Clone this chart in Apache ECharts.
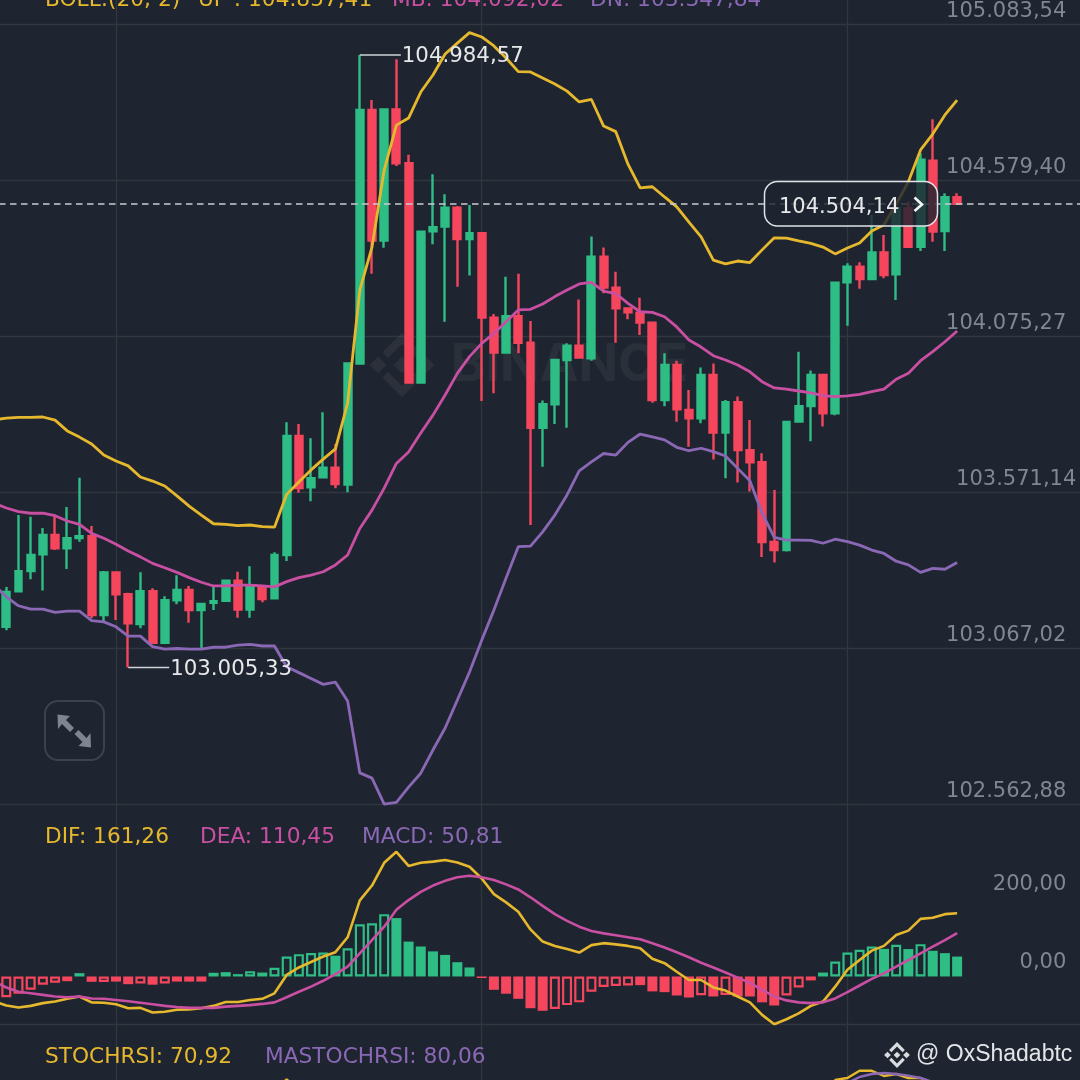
<!DOCTYPE html>
<html><head><meta charset="utf-8">
<style>html,body{margin:0;padding:0;background:#1f2530}#c{width:1080px;height:1080px}</style>
<script src="https://cdn.jsdelivr.net/npm/echarts@6/dist/echarts.min.js"></script>
</head><body><div id="c"></div>
<script>
// open, close, low, high
const candles = [
[103137,103250,103126,103266],[103252,103317,103252,103498],[103317,103369,103291,103493],[103371,103434,103254,103456],
[103434,103391,103385,103493],[103391,103423,103324,103524],[103424,103430,103412,103619],[103430,103175,103165,103463],
[103175,103313,103153,103317],[103313,103242,103159,103313],[103242,103148,103005.33,103247],[103146,103252,103132,103313],
[103252,103085,103085,103262],[103085,103223,103085,103236],[103223,103256,103210,103304],[103256,103191,103150,103269],
[103191,103211,103067,103211],[103215,103220,103191,103266],[103221,103286,103217,103288],[103286,103193,103166,103315],
[103193,103266,103166,103333],[103266,103227,103216,103266],[103229,103369,103229,103378],[103369,103754,103350,103798],
[103754,103585,103570,103792],[103588,103617,103543,103746],[103620,103651,103620,103830],[103651,103598,103585,103728],
[103597,103988,103572,103988],[103988,104807,103988,104984.57],[104807,104385,104278,104839],[104385,104809,104362,104809],
[104809,104635,104626,104971],[104635,103926,103926,104662],[103926,104414,103926,104414],[104415,104428,104373,104599],
[104430,104491,104123,104535],[104491,104390,104236,104497],[104390,104409,104272,104500],[104409,104136,103867,104409],
[104136,104023,103892,104148],[104023,104141,104023,104268],[104141,104055,104021,104278],[104055,103780,103466,104125],
[103780,103856,103654,103868],[103856,103999,103792,103999],[103999,104045,103780,104053],[104045,104007,104007,104195],
[104005,104333,103997,104398],[104333,104233,104215,104363],[104233,104166,104055,104284],[104166,104153,104131,104166],
[104152,104120,104080,104200],[104120,103870,103861,104120],[103870,103983,103850,104021],[103983,103840,103800,103997],
[103838,103811,103719,103902],[103811,103951,103795,103975],[103951,103765,103678,103988],[103765,103863,103617,103870],
[103863,103708,103603,103881],[103708,103669,103574,103805],[103669,103411,103363,103698],[103411,103385,103345,103579],
[103385,103799,103380,103799],[103800,103850,103800,104026],[103850,103951,103737,103965],[103951,103827,103784,103951],
[103827,104249,103821,104249],[104250,104301,104110,104312],[104301,104261,104229,104315],[104261,104347,104261,104468],
[104347,104274,104263,104403],[104276,104490,104193,104490],[104489,104365,104365,104511],[104365,104646,104351,104667],
[104643,104414,104381,104777],[104416,104525,104351,104538],[104525,104504.14,104504,104538]];
const bollUp = [103806,103811,103814,103814,103815,103805,103770,103750,103728,103692,103673,103657,103621,103608,103592,103560,103527,103498,103470,103468,103464,103466,103461,103459,103565,103605,103644,103679,103712,103860,104225,104364,104613,104758,104781,104865,104920,104988,105023,105057,105043,105014,104975,104931,104930,104910,104891,104868,104833,104841,104755,104737,104632,104555,104559,104526,104494,104445,104397,104322,104310,104319,104314,104355,104394,104393,104384,104376,104364,104342,104361,104377,104416,104436,104503,104575,104678,104729,104791,104839];
const bollMid = [103537,103521,103509,103504,103504,103496,103479,103468,103439,103423,103404,103382,103363,103342,103328,103313,103296,103281,103269,103269,103272,103272,103269,103266,103283,103296,103304,103315,103337,103369,103455,103514,103585,103665,103702,103763,103821,103886,103956,104010,104053,104085,104123,104161,104163,104180,104204,104225,104245,104250,104222,104214,104182,104155,104153,104139,104106,104064,104041,104013,103999,103983,103961,103929,103909,103905,103899,103893,103884,103881,103883,103888,103897,103905,103937,103956,103997,104026,104058,104093];
const bollDn = [103272,103234,103205,103194,103194,103184,103188,103188,103157,103153,103137,103107,103107,103073,103065,103067,103065,103065,103071,103071,103078,103080,103075,103075,103008,102989,102970,102951,102958,102897,102665,102648,102564,102570,102619,102664,102739,102810,102900,102991,103094,103191,103295,103396,103398,103444,103498,103563,103641,103670,103697,103692,103733,103760,103751,103741,103717,103706,103714,103703,103689,103649,103609,103504,103426,103417,103417,103416,103407,103420,103412,103401,103385,103374,103349,103337,103313,103326,103323,103345];
const macdHist = [-52.7,-44,-34,-21,-16,-12,8.5,-13.6,-14,-13,-19.6,-18,-21,-18,-13,-13,-13,9.4,11,6,13.6,10,22,51,57,60,61,53,72,133,136,159,149,89,76.5,64,55,36.5,23,-4,-34,-44,-57,-81,-87.5,-83,-73,-66,-39,-27,-24,-23,-22,-38,-40,-48.5,-53.6,-48,-51,-47,-51,-51,-66,-74,-48.5,-28,-10,10,38,61,68,76.5,70.5,81,70,82.5,65.5,59.5,50.81];
const macdHollow = [1,1,1,1,1,0,0,0,1,0,0,1,0,1,0,0,0,0,1,0,1,0,1,1,1,1,1,0,1,1,1,1,0,0,0,0,0,0,0,0,0,0,0,0,0,1,1,1,1,1,1,1,0,0,0,0,0,1,0,1,0,0,0,0,1,1,0,0,1,1,1,1,0,1,0,1,0,0,0];
const dif = [-64,-74,-79,-75,-68,-64,-57,-51,-66,-67,-71,-81,-80,-92,-90,-85,-84,-81,-75,-65,-65,-60,-57,-43,4,23,37,51,62,100,194,232,290,318,282,290,293,297,291,280,250,210,189,165,120,89,78,70,61,80,85,82,78,72,45,34,12,-9,-9,-28,-36,-51,-66,-98,-122,-109,-94,-75,-64,-26,17,42,66,78,106,117,147,150,159,161.26];
const dea = [-13,-28,-39,-43,-47,-51,-53,-51,-56,-57,-60,-63,-67,-71,-75,-78,-80,-80,-80,-77,-75,-73,-70,-66,-53,-39,-26,-11,6,25,59,93,127,170,195,216,232,244,253,257,253,246,235,222,202,180,159,142,127,116,110,105,100,95,85,74,62,49,35,23,10,-3,-16,-34,-51,-61,-66,-68,-66,-56,-40,-23,-6,8,25,42,59,76,93,110.45];
const stoch = {22:90,23:95.3,24:90,67:85,68:95,69:96,70:99.6,71:99.6,72:97,73:98,74:96,75:96,76:93.5,77:80,78:70.92};
const maStoch = {68:88,69:93.5,70:96.5,71:98,72:98.5,73:98,74:97.2,75:96,76:94,77:88,78:80.06};
const priceTicks = [105083.54,104579.40,104075.27,103571.14,103067.02,102562.88];
const priceLabels = ['105.083,54','104.579,40','104.075,27','103.571,14','103.067,02','102.562,88'];
const macdLabelValues = [200,0];
const macdLabels = ['200,00','0,00'];
const lastPrice = 104504.14;
const extremes = [[30,104984.57,'104.984,57'],[11,103005.33,'103.005,33']];
const gridMarks = [10,40,70];

const BG='#1f2530',GRID='#31373f',UP='#2EBD85',DN='#F6465D',YEL='#E6B82E',PINK='#C94FA3',PUR='#8A68B5',AX='#7f8694';
const FONT='"DejaVu Sans", Roboto, sans-serif';
const N=91, BAND=12.19, LEFT=6.3-1.5*BAND, W=BAND*N;
const cats=Array.from({length:N},(_,i)=>String(i-1));
const padded=a=>a.concat(Array(N-a.length).fill(null));
const fromMap=m=>cats.map((_,i)=>(m[i-1]!==undefined?m[i-1]:null));
const cData=['-'].concat(candles).concat(Array(N-candles.length-1).fill('-'));
const barData=[null].concat(macdHist.map((v,i)=>{
  const c=v>=0?UP:DN;
  return macdHollow[i]?{value:v,itemStyle:{color:BG,borderColor:c,borderWidth:2.2}}:{value:v,itemStyle:{color:c,borderColor:c,borderWidth:0}};
})).concat(Array(N-macdHist.length-1).fill(null));

const LOGO=[[[50,38],[62,50],[50,62],[38,50]],[[16,38],[28,50],[16,62],[4,50]],[[84,38],[96,50],[84,62],[72,50]],
  [[50,4],[78,32],[70,40],[50,20],[30,40],[22,32]],[[50,96],[78,68],[70,60],[50,80],[30,60],[22,68]]];
const logo=(x,y,s,fill,z)=>({type:'group',x,y,scaleX:s,scaleY:s,silent:true,children:LOGO.map(p=>({type:'polygon',z,silent:true,shape:{points:p},style:{fill}}))});
const txt=(x,y,text,color,size,extra)=>({type:'text',x,y,z:60,silent:true,style:Object.assign({text,fill:color,font:`${size}px ${FONT}`,textVerticalAlign:'middle'},extra||{})});
const icon=(pts)=>({type:'polygon',z:60,silent:true,shape:{points:pts},style:{fill:'#7f8590'}});

const graphicEls=[
  logo(367,330,.7,'rgba(255,255,255,0.055)',1),
  {type:'text',x:451,y:365,z:1,silent:true,style:{text:'BINANCE',fill:'rgba(255,255,255,0.05)',font:'bold 52px Inter, sans-serif',textVerticalAlign:'middle'}},
  txt(45,0,'BOLL:(20, 2)',YEL,21.7),txt(198,0,'UP : 104.857,41',YEL,21.7),txt(392,0,'MB: 104.092,02',PINK,21.7),txt(590,0,'DN: 103.347,84',PUR,21.7),
  txt(45,837.5,'DIF: 161,26',YEL,21.7),txt(200,837.5,'DEA: 110,45',PINK,21.7),txt(362,837.5,'MACD: 50,81',PUR,21.7),
  txt(45,1057.5,'STOCHRSI: 70,92',YEL,21.7),txt(265,1057.5,'MASTOCHRSI: 80,06',PUR,21.7),
  logo(883,1041,.28,'#d9dbdf',60),
  {type:'text',x:916,y:1055,z:60,silent:true,style:{text:'@ OxShadabtc',fill:'#e3e5e8',font:'23px "Liberation Sans", sans-serif',textVerticalAlign:'middle'}},
  {type:'rect',z:60,silent:true,shape:{x:45,y:701,width:59,height:59,r:13},style:{fill:'rgba(0,0,0,0)',stroke:'#3b424d',lineWidth:2}},
  icon([[57.5,714.5],[70,716],[66,720],[74,728],[70,732],[62,724],[58,729]]),
  icon([[91,747.5],[78.5,746],[82.5,742],[74.5,734],[78.5,730],[86.5,738],[90.5,733]]),
  {type:'rect',z:70,silent:true,shape:{x:764.5,y:181.5,width:173,height:44.5,r:13},style:{fill:'rgba(31,37,48,0.82)',stroke:'#dfe2e6',lineWidth:1.5}},
  {type:'text',x:779,y:207.5,z:71,silent:true,style:{text:'104.504,14',fill:'#e6e8ea',font:`21px ${FONT}`,textVerticalAlign:'middle'}},
  {type:'polyline',z:71,silent:true,shape:{points:[[914.5,197.5],[922,204.5],[914.5,211]]},style:{stroke:'#f2f3f5',lineWidth:2.6,fill:null}}
];
const lineS=(name,data,color,x,w)=>({name,type:'line',data:padded(data),xAxisIndex:x,yAxisIndex:x,symbol:'none',showSymbol:false,smooth:false,z:4,lineStyle:{color,width:w||2},itemStyle:{color},animation:false,silent:true});
const xAx=(gi,extra)=>Object.assign({type:'category',gridIndex:gi,data:cats,boundaryGap:true,axisLine:{show:false},axisTick:{show:false},axisLabel:{show:false},splitLine:{show:false}},extra||{});
const option={
  backgroundColor:BG,animation:false,
  grid:[
    {left:LEFT,width:W,top:24.4,height:780.1,outerBoundsMode:'none'},
    {left:LEFT,width:W,top:805,height:219.3,outerBoundsMode:'none'},
    {left:LEFT,width:W,top:1070,height:200,outerBoundsMode:'none'},
    {left:LEFT,width:W,top:0,height:1080,outerBoundsMode:'none'}
  ],
  xAxis:[xAx(0),xAx(1),xAx(2),xAx(3,{splitLine:{show:true,alignWithLabel:true,lineStyle:{color:GRID,width:1.3},interval:(i)=>gridMarks.includes(i)}})],
  yAxis:[
    {type:'value',gridIndex:0,position:'right',min:102562.88,max:105083.54,axisLine:{show:false},
     axisTick:{show:false,customValues:priceTicks},splitLine:{show:true,lineStyle:{color:GRID,width:1.3}},
     axisLabel:{show:true,inside:true,customValues:priceTicks,margin:21,align:'right',verticalAlign:'bottom',color:AX,fontFamily:FONT,fontSize:21,
       formatter:(v)=>{const i=priceTicks.findIndex(t=>Math.abs(t-v)<.01);return i===3?`{a|${priceLabels[i]}}`:`{a|${priceLabels[i]}}{s|}`;},
       rich:{a:{color:AX,fontFamily:FONT,fontSize:21,lineHeight:25},s:{width:10}}}},
    {type:'value',gridIndex:1,position:'right',min:-122,max:437.5,axisLine:{show:false},
     axisTick:{show:false,customValues:[-122]},splitLine:{show:true,lineStyle:{color:GRID,width:1.3}},
     axisLabel:{show:true,inside:true,customValues:macdLabelValues,margin:31,align:'right',verticalAlign:'bottom',color:AX,fontFamily:FONT,fontSize:21,lineHeight:28,
       formatter:(v)=>macdLabels[macdLabelValues.indexOf(v)]}},
    {type:'value',gridIndex:2,min:0,max:100,show:false,splitLine:{show:false}},
    {type:'value',gridIndex:3,min:0,max:1,show:false,splitLine:{show:false}}
  ],
  graphic:{elements:graphicEls},
  series:[
    {name:'K',type:'candlestick',data:cData,xAxisIndex:0,yAxisIndex:0,barWidth:7.4,z:3,silent:true,animation:false,
     itemStyle:{color:UP,color0:DN,borderColor:UP,borderColor0:DN,borderWidth:2.4},
     markLine:{silent:true,symbol:['none','none'],animation:false,z:5,label:{show:false},lineStyle:{color:'#c8ccd3',width:1.5,type:[6.5,4.5]},data:[{yAxis:lastPrice}]}},
    lineS('UP',bollUp,YEL,0,2.8),lineS('MB',bollMid,PINK,0,2.8),lineS('DN',bollDn,PUR,0,2.8),
    {name:'extremes',type:'custom',xAxisIndex:0,yAxisIndex:0,z:6,silent:true,animation:false,clip:false,data:extremes,encode:{x:0,y:1},
     renderItem:(p,api)=>{const c=api.coord([api.value(0),api.value(1)]);const label=extremes[p.dataIndex][2];
       return {type:'group',children:[
         {type:'line',shape:{x1:c[0],y1:c[1],x2:c[0]+41,y2:c[1]},style:{stroke:'#cfd2d7',lineWidth:1.5}},
         {type:'text',style:{text:label,x:c[0]+42,y:c[1]+1.5,fill:'#e6e8ea',font:`21.3px ${FONT}`,textVerticalAlign:'middle'}}]};}},
    {name:'MACD',type:'bar',data:barData,xAxisIndex:1,yAxisIndex:1,barWidth:10,z:3,silent:true,animation:false},
    lineS('DIF',dif,YEL,1,2.6),lineS('DEA',dea,PINK,1,2.6),
    lineS('STOCHRSI',fromMap(stoch),YEL,2,2.4),lineS('MASTOCHRSI',fromMap(maStoch),PUR,2,2.4)
  ]
};
echarts.init(document.getElementById('c'),null,{renderer:'canvas'}).setOption(option);
</script></body></html>
